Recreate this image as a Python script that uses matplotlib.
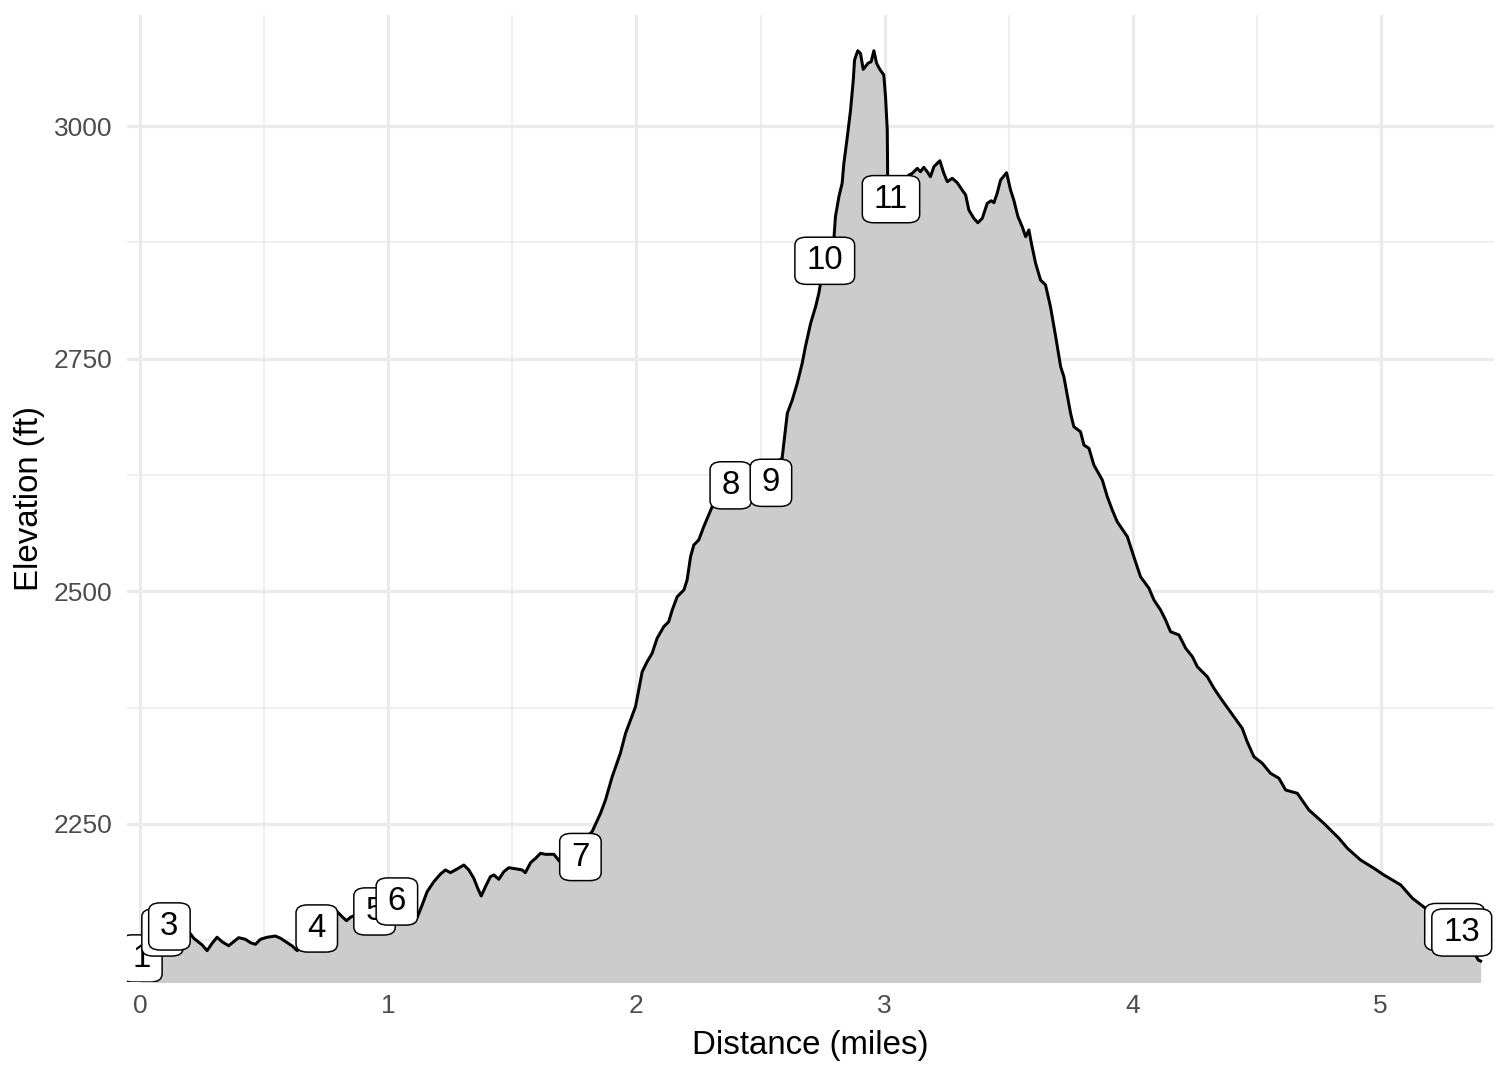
import matplotlib
matplotlib.use("Agg")
import matplotlib.pyplot as plt

plt.rcParams['font.family'] = ['Liberation Sans', 'DejaVu Sans']

# Elevation profile (miles, feet)
dist = [0.000, 0.195, 0.215, 0.249, 0.269, 0.289, 0.309, 0.329, 0.356, 0.376,
        0.396, 0.423, 0.444, 0.464, 0.484, 0.511, 0.544, 0.565, 0.592, 0.612,
        0.632, 0.793, 0.813, 0.831, 0.847, 0.867, 1.116, 1.136, 1.156, 1.183,
        1.210, 1.230, 1.250, 1.270, 1.304, 1.324, 1.344, 1.360, 1.374, 1.391,
        1.411, 1.425, 1.445, 1.465, 1.485, 1.519, 1.539, 1.552, 1.573, 1.593,
        1.613, 1.633, 1.667, 1.691, 1.821, 1.855, 1.875, 1.902, 1.935, 1.956,
        1.976, 1.996, 2.009, 2.023, 2.043, 2.063, 2.083, 2.110, 2.130, 2.144,
        2.164, 2.191, 2.204, 2.218, 2.231, 2.251, 2.271, 2.305, 2.587, 2.608,
        2.628, 2.648, 2.668, 2.681, 2.702, 2.722, 2.735, 2.742, 2.796, 2.802,
        2.816, 2.829, 2.836, 2.850, 2.863, 2.874, 2.879, 2.892, 2.903, 2.914,
        2.933, 2.946, 2.957, 2.968, 2.981, 2.997, 3.004, 3.011, 3.013, 3.050,
        3.098,
        3.112, 3.132, 3.145, 3.158, 3.172, 3.185, 3.199, 3.223, 3.239, 3.253,
        3.273, 3.293, 3.313, 3.327, 3.340, 3.360, 3.376, 3.394, 3.414, 3.430,
        3.441, 3.454, 3.468, 3.492, 3.508, 3.521, 3.538, 3.555, 3.569, 3.582,
        3.592, 3.609, 3.629, 3.649, 3.669, 3.690, 3.710, 3.723, 3.750, 3.763,
        3.790, 3.804, 3.824, 3.844, 3.878, 3.898, 3.918, 3.938, 3.979, 4.005,
        4.032, 4.066, 4.086, 4.113, 4.133, 4.153, 4.187, 4.214, 4.241, 4.261,
        4.301, 4.328, 4.355, 4.408, 4.442, 4.462, 4.489, 4.523, 4.556, 4.590,
        4.617, 4.664, 4.711, 4.771, 4.832, 4.866, 4.919, 4.973, 5.013, 5.081,
        5.128, 5.181, 5.380, 5.394, 5.403]
elev = [2127.5, 2134.3, 2127.2, 2120.0, 2113.9, 2121.8, 2128.3, 2123.5, 2119.2, 2123.5,
        2127.8, 2126.1, 2122.4, 2120.7, 2126.1, 2128.3, 2129.6, 2127.2, 2122.4, 2118.9,
        2113.9, 2155.8, 2150.4, 2146.1, 2149.7, 2152.2, 2149.7, 2163.0, 2177.3, 2188.0,
        2196.3, 2200.6, 2197.7, 2200.6, 2205.9, 2200.6, 2191.7, 2180.9, 2172.6, 2182.6,
        2193.4, 2195.2, 2190.6, 2198.7, 2203.0, 2201.6, 2200.6, 2197.7, 2208.4, 2213.1,
        2218.5, 2217.4, 2217.4, 2209.5, 2241.7, 2261.5, 2275.8, 2300.8, 2326.0, 2347.5,
        2361.7, 2376.0, 2394.0, 2413.6, 2424.4, 2433.4, 2449.5, 2462.0, 2467.4, 2479.9,
        2494.2, 2501.4, 2512.2, 2537.2, 2549.8, 2555.2, 2569.4, 2590.9, 2642.9, 2691.3,
        2705.6, 2723.5, 2745.0, 2762.9, 2788.0, 2805.8, 2820.2, 2831.0, 2879.3, 2902.5,
        2924.0, 2938.4, 2959.9, 2988.5, 3017.2, 3049.4, 3070.9, 3080.9, 3078.1, 3060.9,
        3067.4, 3069.1, 3080.9, 3067.4, 3060.9, 3054.8, 3031.5, 2995.7, 2935.0, 2925.0,
        2947.3,
        2949.2, 2954.5, 2950.9, 2955.6, 2950.9, 2945.5, 2956.3, 2962.7, 2949.2, 2940.2,
        2943.8, 2939.1, 2931.2, 2925.9, 2909.7, 2900.8, 2896.1, 2900.8, 2916.9, 2919.7,
        2917.6, 2927.7, 2942.0, 2949.8, 2931.2, 2920.5, 2902.5, 2891.8, 2881.1, 2888.3,
        2874.0, 2852.5, 2834.5, 2829.2, 2805.8, 2773.6, 2741.4, 2730.6, 2691.3, 2676.9,
        2671.5, 2657.2, 2653.7, 2635.7, 2619.6, 2601.7, 2587.4, 2574.8, 2558.7, 2537.2,
        2515.7, 2503.3, 2490.7, 2479.9, 2469.2, 2456.6, 2453.1, 2438.8, 2429.8, 2419.0,
        2408.3, 2395.8, 2385.1, 2365.3, 2352.8, 2338.4, 2322.3, 2315.2, 2304.5, 2299.1,
        2286.5, 2283.0, 2265.0, 2250.7, 2234.6, 2223.9, 2211.3, 2202.4, 2195.2, 2184.5,
        2170.2, 2159.4, 2109.9, 2103.8, 2102.7]

# Waypoint labels
wp_names = ['1', '2', '3', '4', '5', '6', '7', '8', '9', '10', '11', '12', '13']
wp_dist = [0.004, 0.089, 0.117, 0.711, 0.944, 1.034, 1.774, 2.380, 2.542,
           2.759, 3.026, 5.298, 5.327]
wp_elev = [2105.5, 2133.4, 2139.9, 2137.7, 2156.0, 2166.7, 2214.5, 2613.9,
           2616.6, 2855.2, 2921.4, 2139.3, 2133.4]

fig = plt.figure(figsize=(7, 5), dpi=216)
ax = fig.add_axes([127 / 1512, 98 / 1080, 1367 / 1512, 967 / 1080])

ymin, ymax = 2080.2, 3119.3
ax.fill_between(dist, elev, ymin - 100, color='#CCCCCC', linewidth=0)
ax.plot(dist, elev, color='black', linewidth=1.0)

for name, x, y in zip(wp_names, wp_dist, wp_elev):
    ax.text(x, y, name, fontsize=11, ha='center', va='center', clip_on=True,
            zorder=5,
            bbox=dict(boxstyle='round,pad=0.35', facecolor='white',
                      edgecolor='black', linewidth=0.5, mutation_aspect=0.7))

ax.set_xlim(-0.054, 5.457)
ax.set_ylim(ymin, ymax)
ax.set_xticks([0, 1, 2, 3, 4, 5])
ax.set_xticks([0.5, 1.5, 2.5, 3.5, 4.5], minor=True)
ax.set_yticks([2250, 2500, 2750, 3000])
ax.set_yticks([2125, 2375, 2625, 2875], minor=True)

ax.grid(which='major', color='#EBEBEB', linewidth=1.07)
ax.grid(which='minor', color='#EBEBEB', linewidth=0.53)
ax.set_axisbelow(True)
for s in ax.spines.values():
    s.set_visible(False)
ax.tick_params(which='both', length=0)
ax.tick_params(axis='x', labelsize=8.8, labelcolor='#4D4D4D', pad=4)
ax.tick_params(axis='y', labelsize=8.8, labelcolor='#4D4D4D', pad=5)

ax.set_xlabel('Distance (miles)', fontsize=11)
ax.set_ylabel('Elevation (ft)', fontsize=11)
ax.xaxis.set_label_coords(0.5, -0.066)
ax.xaxis.label.set_va('center')
ax.yaxis.set_label_coords(-0.071, 0.5)
ax.yaxis.label.set_va('center')

fig.savefig('out.png', dpi=216, facecolor='white')
